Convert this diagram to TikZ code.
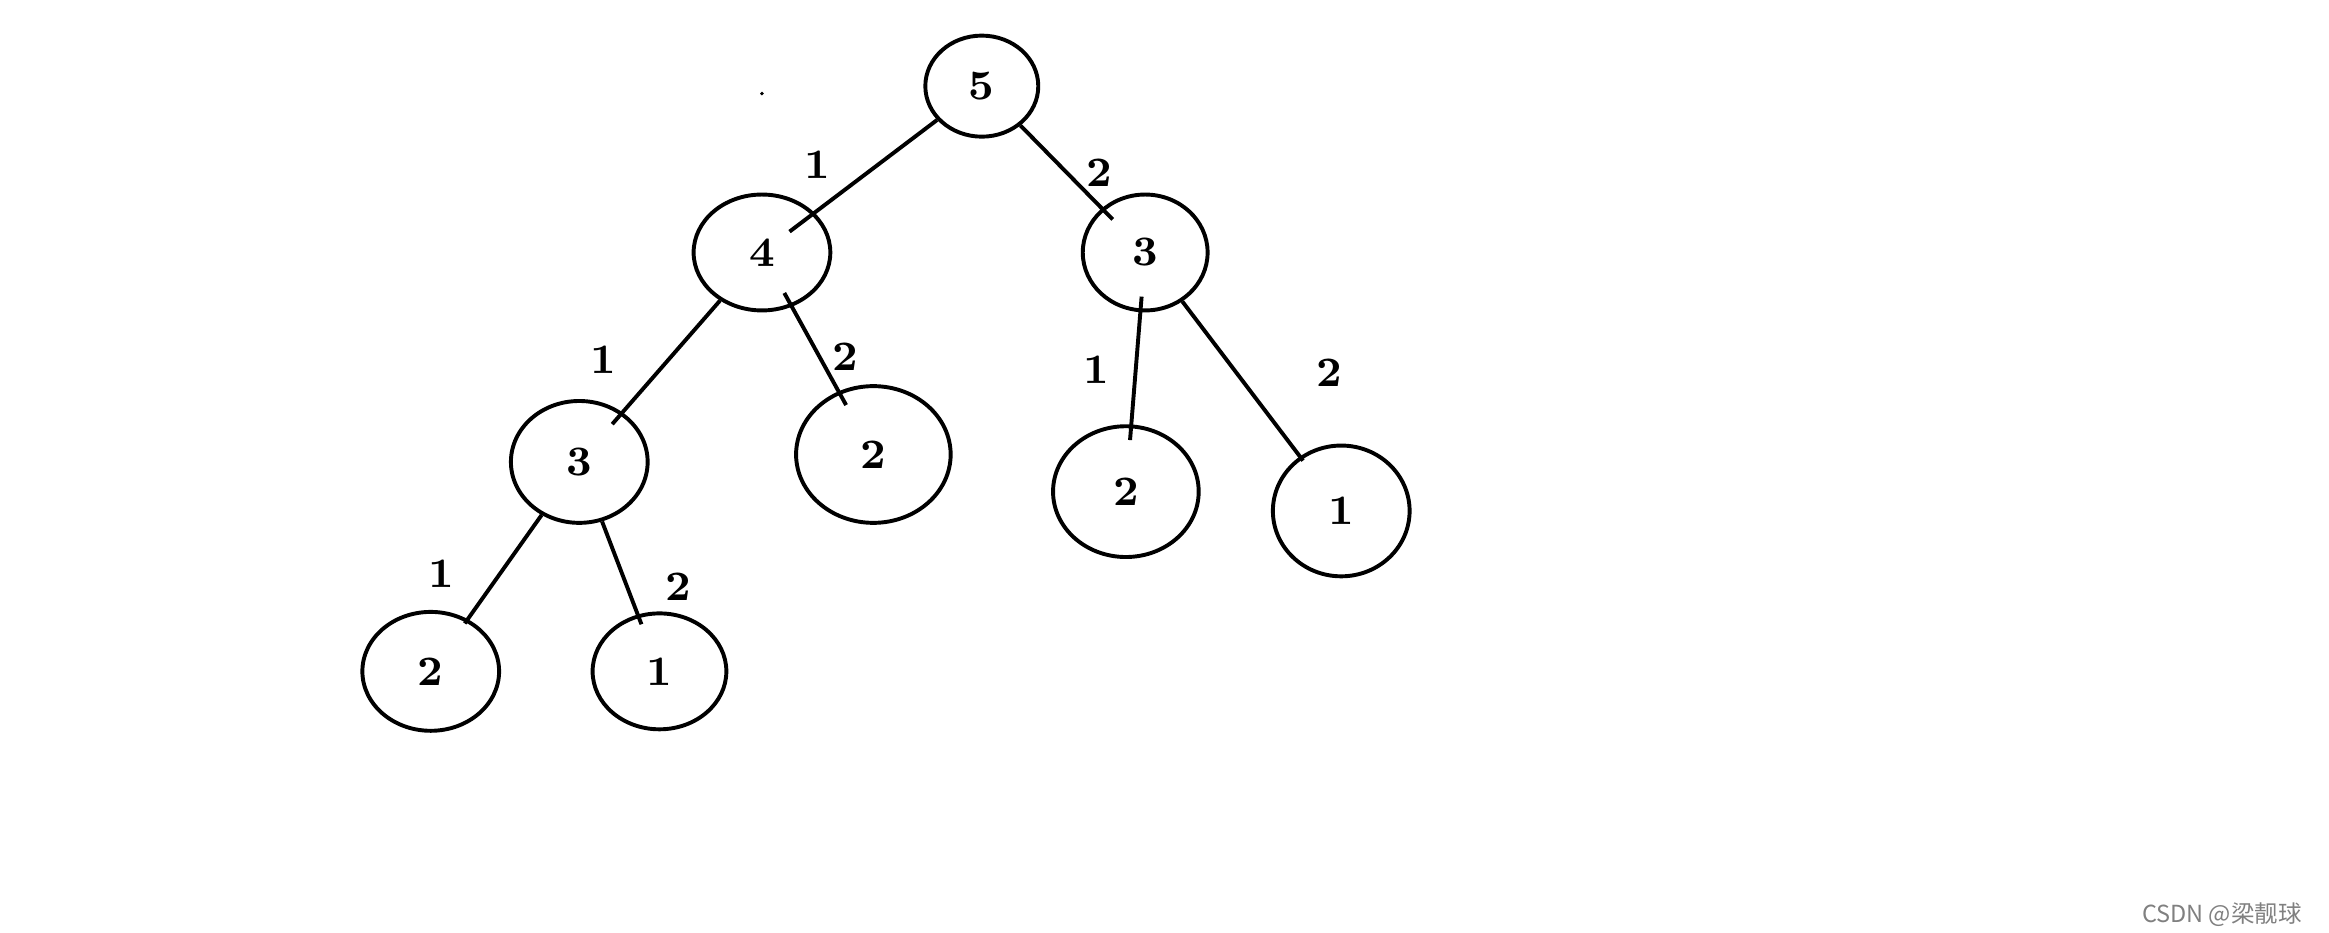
\documentclass[tikz,border=0pt]{standalone}
\usepackage{fontspec}
\newfontfamily\cjk{Noto Sans CJK SC}
\usetikzlibrary{shapes.geometric}
\begin{document}
\begin{tikzpicture}[x=0.01cm,y=-0.01cm,
  nd/.style={draw,line width=0.75pt,ellipse,inner sep=0pt,font=\fontsize{8}{9}\selectfont\bfseries},
  ed/.style={line width=0.75pt},
  lb/.style={font=\fontsize{8}{9}\selectfont\bfseries}]
\useasboundingbox (0,0) rectangle (1568,628);
\node[nd,minimum width=76\pgflinewidth,minimum width=0.76cm,minimum height=0.68cm] (r) at (661,58) {5};
\node[nd,minimum width=0.92cm,minimum height=0.78cm] (a) at (513,170) {4};
\node[nd,minimum width=0.84cm,minimum height=0.78cm] (b) at (771,170) {3};
\node[nd,minimum width=0.92cm,minimum height=0.82cm] (c) at (390,311) {3};
\node[nd,minimum width=1.04cm,minimum height=0.92cm] (d) at (588,306) {2};
\node[nd,minimum width=0.98cm,minimum height=0.88cm] (e) at (758,331) {2};
\node[nd,minimum width=0.92cm,minimum height=0.88cm] (f) at (903,344) {1};
\node[nd,minimum width=0.92cm,minimum height=0.80cm] (g) at (290,452) {2};
\node[nd,minimum width=0.90cm,minimum height=0.78cm] (h) at (444,452) {1};
\draw[ed,shorten >=-6pt] (r) -- (a);
\draw[ed,shorten >=-3pt] (r) -- (b);
\draw[ed,shorten >=-3pt] (a) -- (c);
\draw[ed,shorten >=-3pt,shorten <=-3pt] (a) -- (d);
\draw[ed,shorten >=-3pt,shorten <=-3pt] (b) -- (e);
\draw[ed,shorten >=-1pt] (b) -- (f);
\draw[ed,shorten >=-1pt] (c) -- (g);
\draw[ed,shorten >=-2pt] (c) -- (h);
\node[lb] (l1) at (550,111) {1};
\node[lb] (l2) at (740,116) {2};
\node[lb] (l3) at (406,242) {1};
\node[lb] (l4) at (569,240) {2};
\node[lb] (l5) at (738,249) {1};
\node[lb] (l6) at (895,251) {2};
\node[lb] (l7) at (297,386) {1};
\node[lb] (l8) at (457,395) {2};
\fill (513,63) circle (1.3);
\node[anchor=east,text=gray,font=\cjk\fontsize{4.5}{5}\selectfont] (w) at (1562,616) {CSDN @梁靓球};
\end{tikzpicture}
\end{document}
